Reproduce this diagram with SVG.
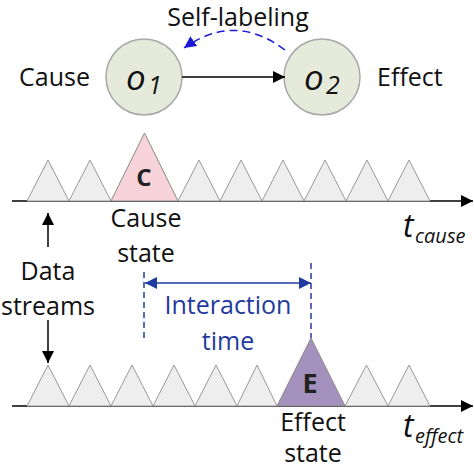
<svg xmlns="http://www.w3.org/2000/svg" width="474" height="470" viewBox="0 0 474 470">
<style>
.lbl{font-family:"Open Sans","Liberation Sans",sans-serif;font-size:25px;fill:#111}
.blue{fill:#1f3a9e}
.tri{fill:#eeeeee;stroke:#999;stroke-width:1}
.node{fill:#e6eadb;stroke:#a8a8a8;stroke-width:1.5}
.it{font-family:"Open Sans","Liberation Sans",sans-serif;font-style:italic;fill:#111}
.bold{font-family:"Open Sans","Liberation Sans",sans-serif;font-weight:bold;fill:#222;text-anchor:middle}
</style>
<defs>
<marker id="ah" viewBox="0 0 12 12" refX="12" refY="6" markerWidth="12" markerHeight="12" markerUnits="userSpaceOnUse" orient="auto">
<path d="M0,0 L12,6 L0,12 z" fill="#000"/>
</marker>
<marker id="ahb" viewBox="0 0 12 12" refX="12" refY="6" markerWidth="12" markerHeight="12" markerUnits="userSpaceOnUse" orient="auto">
<path d="M0,0 L12,6 L0,12 z" fill="#1a1ad8"/>
</marker>
<marker id="ahd" viewBox="0 0 12 12" refX="12" refY="6" markerWidth="12" markerHeight="12" markerUnits="userSpaceOnUse" orient="auto-start-reverse">
<path d="M0,0 L12,6 L0,12 z" fill="#1f3a9e"/>
</marker>
</defs>

<g id="node-o1">
<circle class="node" cx="144" cy="77" r="38"/>
<text class="it" x="126" y="90" font-size="35">o</text>
<text class="it" x="148" y="94" font-size="25">1</text>
</g>
<g id="node-o2">
<circle class="node" cx="322" cy="77" r="38"/>
<text class="it" x="304" y="90" font-size="35">o</text>
<text class="it" x="326" y="94" font-size="25">2</text>
</g>
<text class="lbl" x="19" y="86">Cause</text>
<text class="lbl" x="377" y="86">Effect</text>
<text class="lbl" x="238" y="26" text-anchor="middle" font-size="24">Self-labeling</text>

<g id="connectors">
<line x1="182" y1="77" x2="285" y2="77" stroke="#000" stroke-width="1.5" marker-end="url(#ah)"/>
<path d="M285,50 Q235,12 184,48" fill="none" stroke="#1a1ad8" stroke-width="1.5" stroke-dasharray="8 5" marker-end="url(#ahb)"/>
<line x1="12" y1="201" x2="473" y2="201" stroke="#000" stroke-width="1.5" marker-end="url(#ah)"/>
<line x1="12" y1="406" x2="473" y2="406" stroke="#000" stroke-width="1.5" marker-end="url(#ah)"/>
<line x1="48" y1="247" x2="48" y2="213" stroke="#000" stroke-width="1.5" marker-end="url(#ah)"/>
<line x1="48" y1="320" x2="48" y2="363" stroke="#000" stroke-width="1.5" marker-end="url(#ah)"/>
<line x1="145" y1="283" x2="311" y2="283" stroke="#1f3a9e" stroke-width="1.5" marker-start="url(#ahd)" marker-end="url(#ahd)"/>
<line x1="144" y1="272" x2="144" y2="338" stroke="#1f3a9e" stroke-width="1.5" stroke-dasharray="6 4"/>
<line x1="311" y1="263" x2="311" y2="338" stroke="#1f3a9e" stroke-width="1.5" stroke-dasharray="6 4"/>
</g>

<g id="stream-cause">
<polygon class="tri" points="27,201 48,160 69,201"/>
<polygon class="tri" points="69,201 90,160 111,201"/>
<polygon points="111,201 144.5,133 178,201" fill="#f9d3da" stroke="#888" stroke-width="1"/>
<polygon class="tri" points="178,201 199,160 220,201"/>
<polygon class="tri" points="220,201 241,160 262,201"/>
<polygon class="tri" points="262,201 283,160 304,201"/>
<polygon class="tri" points="304,201 325,160 346,201"/>
<polygon class="tri" points="346,201 367,160 388,201"/>
<polygon class="tri" points="388,201 409,160 430,201"/>
<text class="bold" x="144" y="186" font-size="24">C</text>
</g>

<g id="stream-effect">
<polygon class="tri" points="27,406 48,365 69,406"/>
<polygon class="tri" points="69,406 90,365 111,406"/>
<polygon class="tri" points="111,406 132,365 153,406"/>
<polygon class="tri" points="153,406 174,365 195,406"/>
<polygon class="tri" points="195,406 216,365 237,406"/>
<polygon class="tri" points="237,406 257,365 277,406"/>
<polygon points="277,406 311,338 345,406" fill="#a591bd" stroke="#888" stroke-width="1"/>
<polygon class="tri" points="345,406 366.5,365 388,406"/>
<polygon class="tri" points="388,406 409,365 430,406"/>
<text class="bold" x="310" y="393" font-size="27">E</text>
</g>

<text class="lbl" x="146" y="227" text-anchor="middle">Cause</text>
<text class="lbl" x="146" y="262" text-anchor="middle">state</text>
<text class="lbl" x="48" y="280" text-anchor="middle">Data</text>
<text class="lbl" x="48" y="315" text-anchor="middle">streams</text>
<text class="lbl blue" x="228" y="314" text-anchor="middle">Interaction</text>
<text class="lbl blue" x="228" y="350" text-anchor="middle">time</text>
<text class="lbl" x="313" y="431" text-anchor="middle">Effect</text>
<text class="lbl" x="313" y="462" text-anchor="middle">state</text>
<text class="it" x="403" y="237" font-size="32">t</text>
<text class="it" x="415" y="243" font-size="20">cause</text>
<text class="it" x="403" y="437" font-size="32">t</text>
<text class="it" x="415" y="443" font-size="20">effect</text>
</svg>
